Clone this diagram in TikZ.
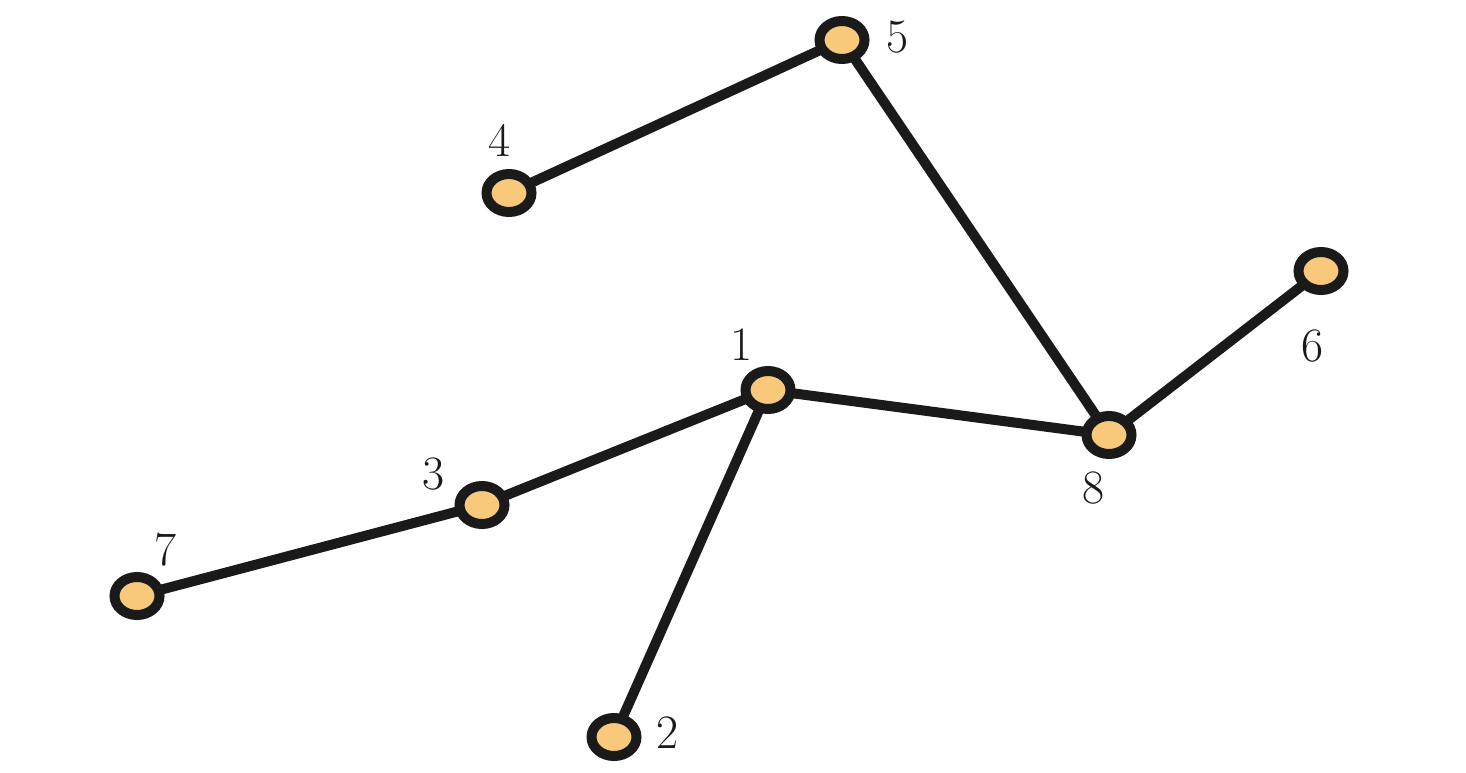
\documentclass[tikz,border=0pt]{standalone}
\usetikzlibrary{shapes.geometric}
\definecolor{vfill}{HTML}{F8C97A}
\definecolor{vline}{HTML}{1A1A1A}
\begin{document}
\begin{tikzpicture}[x=1pt,y=-1pt,
  vert/.style={ellipse,draw=vline,fill=vfill,line width=10pt,minimum width=45pt,minimum height=38pt,inner sep=0pt},
  edge/.style={draw=vline,line width=10pt},
  lab/.style={font=\fontsize{48}{56}\selectfont,inner sep=0pt,text=vline}]
\useasboundingbox (0,0) rectangle (1466,773);
\coordinate (c1) at (768,390);
\coordinate (c2) at (614,737);
\coordinate (c3) at (482,505);
\coordinate (c4) at (509,193);
\coordinate (c5) at (842,40);
\coordinate (c6) at (1321,271);
\coordinate (c7) at (137,596);
\coordinate (c8) at (1109,435);
\draw[edge] (c4)--(c5) (c5)--(c8) (c8)--(c6) (c1)--(c8) (c1)--(c3) (c3)--(c7) (c1)--(c2);
\foreach \i in {1,...,8} \node[vert] (v\i) at (c\i) {};
\node[lab] (l1) at (742,345) {1};
\node[lab] (l2) at (668,733) {2};
\node[lab] (l3) at (434,474) {3};
\node[lab] (l4) at (500,140) {4};
\node[lab] (l5) at (898,37) {5};
\node[lab] (l6) at (1312,346) {6};
\node[lab] (l7) at (166,550) {7};
\node[lab] (l8) at (1093,488) {8};
\end{tikzpicture}
\end{document}
